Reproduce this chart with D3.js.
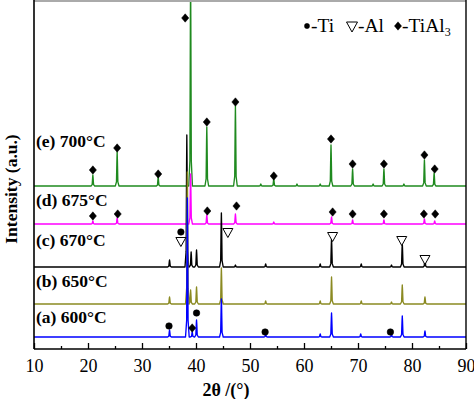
<!DOCTYPE html>
<html><head><meta charset="utf-8">
<script src="https://cdn.jsdelivr.net/npm/d3@7"></script>
<style>
html,body{margin:0;padding:0;background:#fff;}
svg{display:block;}
text{font-family:"Liberation Serif","Times New Roman",serif;}
</style></head>
<body>
<svg id="chart" width="474" height="399"></svg>
<script>
// ---- data ----
const xTicks = [10, 20, 30, 40, 50, 60, 70, 80, 90];
const xMinorTicks = [15, 25, 35, 45, 55, 65, 75, 85];
const seriesNames = ["(e) 700°C", "(d) 675°C", "(c) 670°C", "(b) 650°C", "(a) 600°C"];
const seriesColors = ["#1f8a1f", "#ff00ff", "#000000", "#8b8a22", "#0000ff"];
const seriesOffsets = [163, 125, 82, 45, 12];          // vertical offset (a.u.)
const labelLevels = [202, 143, 103, 62, 26];            // label baseline (a.u.)
// peaks: [2theta, height a.u.]
const peaksE = [[20.9,11],[25.4,34],[33.0,9],[39.0,210],[42.0,59],[47.3,80],[52.0,2],[54.4,7],[58.7,2],[63.0,2],[65.0,41],[69.0,17],[72.8,2],[74.8,17],[78.5,2],[82.3,26],[84.1,13]];
const peaksD = [[20.9,3],[25.4,6],[39.0,50],[42.0,9],[47.3,10],[54.4,2],[65.1,7],[69.0,4],[74.8,4],[82.3,5],[84.2,3]];
const peaksC = [[35.1,7],[38.3,132],[39.1,15],[40.1,17],[44.7,54],[47.3,2],[52.9,3],[63.0,3],[65.1,28],[70.6,3],[76.2,2],[78.2,24],[82.4,9]];
const peaksB = [[35.1,7],[38.4,132],[39.0,14],[40.1,17],[44.7,36],[52.9,3],[63.0,3],[65.1,27],[70.6,3],[76.2,2],[78.2,19],[82.4,7]];
const peaksA = [[35.1,7],[38.4,139],[39.3,5],[40.1,17],[44.7,38],[52.9,3],[63.0,3],[65.1,24],[70.5,3],[76.2,3],[78.2,21],[82.4,6]];
const seriesPeaks = [peaksE, peaksD, peaksC, peaksB, peaksA];
// phase markers: [2theta, level a.u., phase]
const markers = [
  [20.9,179,"TiAl3"],[25.4,201,"TiAl3"],[33.0,175,"TiAl3"],[38.0,331,"TiAl3"],[42.0,227,"TiAl3"],[47.3,247,"TiAl3"],
  [54.4,173,"TiAl3"],[65.0,210,"TiAl3"],[69.0,185,"TiAl3"],[74.8,185,"TiAl3"],[82.3,194,"TiAl3"],[84.2,180,"TiAl3"],
  [20.9,133,"TiAl3"],[25.5,135,"TiAl3"],[42.1,138,"TiAl3"],[47.5,143,"TiAl3"],[65.3,137,"TiAl3"],[69.0,135,"TiAl3"],
  [74.8,135,"TiAl3"],[82.2,135,"TiAl3"],[84.3,135,"TiAl3"],
  [37.2,117,"Ti"],[37.2,107,"Al"],[45.9,116,"Al"],[65.3,112,"Al"],[78.1,108,"Al"],[82.4,89,"Al"],
  [35.0,23,"Ti"],[39.3,21,"TiAl3"],[40.1,36,"Ti"],[52.8,17,"Ti"],[76.0,17,"Ti"]
];
const legendPhases = ["Ti", "Al", "TiAl"];
const xTitle = "2θ /(°)";
const yTitle = "Intensity (a.u.)";

// ---- layout ----
const svg = d3.select("#chart");
const L = 34, R = 466, T = 1, B = 349;
const x = d3.scaleLinear().domain([10, 90]).range([L, R]);
const y = d3.scaleLinear().domain([0, 348]).range([B, T]);

// series lines
const line = d3.line().x(d => x(d[0])).y(d => y(d[1]));
function profile(peaks, off) {
  const pts = [[10, off]];
  peaks.slice().sort((a,b)=>a[0]-b[0]).forEach(([p,h]) => {
    pts.push([p-0.34, off], [p-0.13, off+h*0.12], [p-0.04, off+h*0.8], [p, off+h],
             [p+0.04, off+h*0.8], [p+0.13, off+h*0.12], [p+0.34, off]);
  });
  pts.push([90, off]);
  return pts;
}
seriesPeaks.forEach((pk, i) => {
  svg.append("path").attr("d", line(profile(pk, seriesOffsets[i])))
    .attr("fill", "none").attr("stroke", seriesColors[i]).attr("stroke-width", 1.35)
    .attr("stroke-linejoin", "round");
});

// markers
const shapes = {
  "TiAl3": "M0,-4.2L3.6,0L0,4.2L-3.6,0Z",
  "Ti": d3.symbol(d3.symbolCircle, 34)(),
  "Al": "M-5,-4.5L5,-4.5L0,4.5Z"
};
markers.forEach(([p, lv, ph]) => {
  svg.append("path").attr("d", shapes[ph])
    .attr("transform", `translate(${x(p)},${y(lv)})`)
    .attr("fill", ph === "Al" ? "#fff" : "#000")
    .attr("stroke", "#000").attr("stroke-width", ph === "Al" ? 1 : 0.5);
});

// series labels
seriesNames.forEach((n, i) => {
  svg.append("text").attr("x", x(10) + 2).attr("y", y(labelLevels[i]))
    .attr("font-size", 17.5).attr("font-weight", "bold").attr("fill", "#000").text(n);
});

// frame
svg.append("line").attr("x1", L).attr("x2", R).attr("y1", T).attr("y2", T)
  .attr("stroke", "#aaa").attr("stroke-width", 2);
svg.append("line").attr("x1", L).attr("x2", L).attr("y1", 0).attr("y2", B).attr("stroke", "#000").attr("stroke-width", 1.6);
svg.append("line").attr("x1", R).attr("x2", R).attr("y1", 0).attr("y2", B).attr("stroke", "#000").attr("stroke-width", 1.4);
svg.append("line").attr("x1", L).attr("x2", R).attr("y1", B).attr("y2", B).attr("stroke", "#000").attr("stroke-width", 1.6);

// x axis
const gx = svg.append("g").attr("transform", `translate(0,${B})`)
  .call(d3.axisBottom(x).tickValues(xTicks).tickSizeInner(-6).tickSizeOuter(0).tickPadding(10).tickFormat(d3.format("d")));
gx.select(".domain").remove();
gx.selectAll(".tick line").attr("stroke", "#000").attr("stroke-width", 1.3);
gx.selectAll(".tick text").attr("font-size", 18).attr("fill", "#000")
  .attr("font-family", "'Liberation Serif','Times New Roman',serif");
const gm = svg.append("g").attr("transform", `translate(0,${B})`)
  .call(d3.axisBottom(x).tickValues(xMinorTicks).tickSizeInner(-3).tickSizeOuter(0).tickFormat(""));
gm.select(".domain").remove();
gm.selectAll(".tick line").attr("stroke", "#000").attr("stroke-width", 1.3);

// axis titles
svg.append("text").attr("x", 226).attr("y", 396).attr("text-anchor", "middle")
  .attr("font-size", 18).attr("font-weight", "bold").text(xTitle);
svg.append("text").attr("transform", `translate(17,${(130+248)/2}) rotate(-90)`)
  .attr("text-anchor", "middle").attr("font-size", 17.5).attr("font-weight", "bold").text(yTitle);

// legend
const lg = svg.append("g").attr("transform", "translate(307,32)");
const legendShapeKeys = ["Ti", "Al", "TiAl3"];
const legendX = [0, 45, 91];
legendPhases.forEach((ph, i) => {
  const key = legendShapeKeys[i];
  lg.append("path").attr("d", key === "Al" ? "M-5.5,-10L5.5,-10L0,0Z" : shapes[key])
    .attr("transform", `translate(${legendX[i]},${key === "Al" ? 0 : -6})${key === "Ti" ? " scale(0.8)" : ""}`)
    .attr("fill", key === "Al" ? "#fff" : "#000").attr("stroke", "#000").attr("stroke-width", key === "Al" ? 1 : 0.4);
  const t = lg.append("text").attr("x", legendX[i] + (key === "Al" ? 6 : 4)).attr("y", 0)
    .attr("font-size", 19.5).attr("fill", "#000").text("-" + ph);
  if (key === "TiAl3") t.append("tspan").attr("font-size", 12).attr("dy", 4).text("3");
});
</script>
</body></html>
